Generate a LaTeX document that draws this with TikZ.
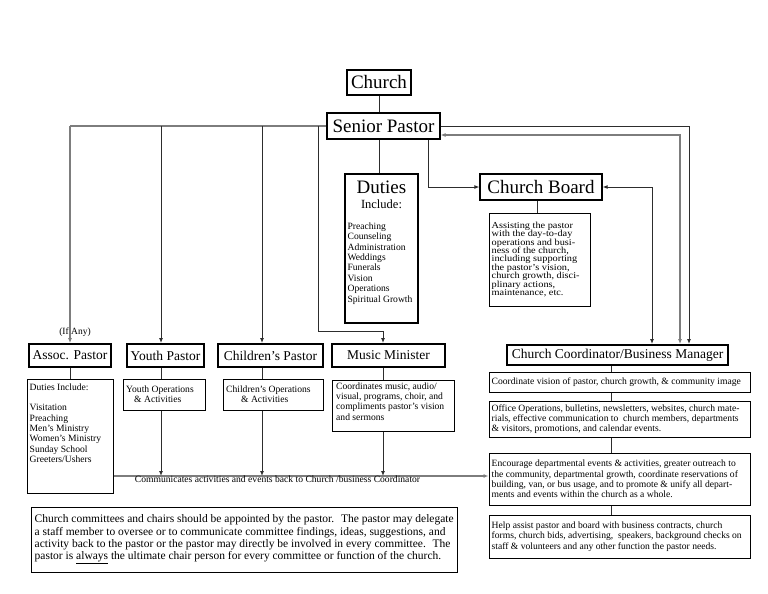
\documentclass[tikz,border=0pt]{standalone}
\usepackage{fontspec}
\setmainfont{Liberation Serif}
\newfontfamily\widefont[FakeStretch=1.12,Ligatures=TeX]{Liberation Serif}
\usetikzlibrary{positioning,arrows.meta}
\definecolor{linedark}{RGB}{45,45,45}
\definecolor{linegray}{RGB}{125,125,125}
% font size with a fixed line spacing
\newcommand{\fs}[2]{\fontsize{#1}{#2}\selectfont\lineskiplimit=-100pt\relax}

\begin{document}
\begin{tikzpicture}[x=1pt,y=-1pt,
	every node/.style={inner sep=0pt},
	% big boxes at the top
	bigbox/.style={draw=black, line width=1.2pt, font=\fs{19}{21}},
	% titles of the staff row
	headbox/.style={draw=black, line width=1.9pt, minimum height=23pt, font=\fs{13.5}{15}},
	% small boxes with text
	infobox/.style={draw=black, line width=1pt},
	infotext/.style={align=left, font=\fs{9.6}{10.3}},
	conn/.style={draw=linedark, line width=1pt},
	gconn/.style={draw=linegray, line width=1.2pt},
	tip/.style={-{Latex[length=5pt,width=4pt]}},
	tips/.style={{Latex[length=5pt,width=4pt]}-{Latex[length=5pt,width=4pt]}}
	]
	\fill[white] (0,0) rectangle (768,594);
	\useasboundingbox (0,0) rectangle (768,594);
	
	% columns of the connectors
	\coordinate (colA) at (70,0);
	\coordinate (colB) at (161,0);
	\coordinate (colC) at (262,0);
	\coordinate (colD) at (383,0);
	\coordinate (colP) at (428,0);
	\coordinate (colE) at (537,0);
	\coordinate (colK) at (611,0);
	\coordinate (colR) at (652,0);
	\coordinate (colG) at (680,0);
	\coordinate (colH) at (689,0);
	\coordinate (musicbend) at (318,331);
	\coordinate (commY) at (0,476);
	
	% Top
	\node[bigbox, minimum width=64pt, minimum height=25pt] (church) at (379,82.5) {Church};
	\node[bigbox, minimum width=113pt, minimum height=26pt] (senior) at (383.5,126) {Senior Pastor};
	
	% Duties of the pastor
	\node[bigbox, minimum width=73pt, minimum height=149pt] (duties) at (381.5,248.5) {};
	\node[anchor=base, font=\fs{19}{21}] (dutieshead) at ([yshift=-20pt]duties.north) {Duties};
	\node[anchor=base, font=\fs{12.5}{14}] (dutiesinc) at ([yshift=-35pt]duties.north) {Include:};
	\node[anchor=north west, align=left, font=\fs{9.6}{10.4}] (dutieslist) at ([shift={(3pt,-49pt)}]duties.north west)
	{Preaching\\Counseling\\Administration\\Weddings\\Funerals\\Vision\\Operations\\Spiritual Growth};
	
	% Church board
	\node[bigbox, minimum width=122pt, minimum height=26pt] (board) at (541,187) {Church Board};
	\node[infobox, minimum width=101pt, minimum height=93pt] (boardtxt) at (539.5,259.5) {};
	\node[anchor=west, align=left, font=\widefont\fs{9.2}{8.4}] (boardlines) at ([xshift=3pt]boardtxt.west)
	{Assisting the pastor\\with the day-to-day\\operations and busi-\\ness of the church,\\including supporting\\the pastor's vision,\\church growth, disci-\\plinary actions,\\maintenance, etc.};
	
	% Staff row
	\node[font=\fs{9.5}{11}, anchor=base] (ifany) at (75,334) {(If Any)};
	\node[headbox, minimum width=82pt] (assoc) at (70,355.5) {Assoc. Pastor};
	\node[headbox, minimum width=77pt] (youth) at (165.5,355.5) {Youth Pastor};
	\node[headbox, minimum width=105pt] (children) at (270.5,355.5) {Children's Pastor};
	\node[headbox, minimum width=113pt] (music) at (388.5,355.5) {Music Minister};
	\node[headbox, minimum width=221pt, minimum height=20pt] (coord) at (617.5,355) {Church Coordinator/Business Manager};
	
	% Staff duties
	\node[infobox, minimum width=86pt, minimum height=114pt] (assocduty) at (70,436) {};
	\node[infotext, anchor=north west] (assocdutytxt) at ([shift={(3pt,-5pt)}]assocduty.north west)
	{Duties Include:\\[10.3pt]Visitation\\Preaching\\Men's Ministry\\Women's Ministry\\Sunday School\\Greeters/Ushers};
	\node[infobox, minimum width=82pt, minimum height=31pt] (youthops) at (164,394.5) {};
	\node[infotext, anchor=west] (youthopstxt) at ([xshift=3.5pt]youthops.west)
	{Youth Operations\\\hspace*{8pt}\& Activities};
	\node[infobox, minimum width=100pt, minimum height=31pt] (childops) at (273,394.5) {};
	\node[infotext, anchor=west] (childopstxt) at ([xshift=3.5pt]childops.west)
	{Children's Operations\\\hspace*{15pt}\& Activities};
	\node[infobox, minimum width=122pt, minimum height=51pt] (musictxt) at (393,405.5) {};
	\node[infotext, anchor=north west] (musictxtlines) at ([shift={(4.5pt,-3pt)}]musictxt.north west)
	{Coordinates music, audio/\\visual, programs, choir, and\\compliments pastor's vision\\and sermons};
	
	% Coordinator duties
	\node[infobox, minimum width=261pt, minimum height=20pt] (cvision) at (619.5,382) {};
	\node[infotext, anchor=west] (cvisiontxt) at ([xshift=3pt]cvision.west)
	{Coordinate vision of pastor, church growth, \& community image};
	\node[infobox, minimum width=261pt, minimum height=36pt] (coffice) at (619.5,419) {};
	\node[infotext, anchor=west] (cofficetxt) at ([xshift=3pt]coffice.west)
	{Office Operations, bulletins, newsletters, websites, church mate-\\rials, effective communication to\ \ church members, departments\\\& visitors, promotions, and calendar events.};
	\node[infobox, minimum width=261pt, minimum height=52pt] (cevents) at (619.5,479) {};
	\node[infotext, anchor=west] (ceventstxt) at ([xshift=3pt]cevents.west)
	{Encourage departmental events \& activities, greater outreach to\\the community, departmental growth, coordinate reservations of\\building, van, or bus usage, and to promote \& unify all depart-\\ments and events within the church as a whole.};
	\node[infobox, minimum width=261pt, minimum height=43pt] (cbusiness) at (619.5,536.5) {};
	\node[infotext, anchor=west] (cbusinesstxt) at ([xshift=3pt]cbusiness.west)
	{Help assist pastor and board with business contracts, church\\forms, church bids, advertising,\ \ speakers, background checks on\\staff \& volunteers and any other function the pastor needs.};
	
	% Note at the bottom
	\node[infobox, minimum width=426pt, minimum height=65pt] (note) at (244,539.5) {};
	\node[anchor=west, align=left, font=\fs{11.5}{12.3}] (notetxt) at ([xshift=4pt]note.west)
	{Church committees and chairs should be appointed by the pastor.~ The pastor may delegate\\a staff member to oversee or to communicate committee findings, ideas, suggestions, and\\activity back to the pastor or the pastor may directly be involved in every committee.~ The\\pastor is \underline{always} the ultimate chair person for every committee or function of the church.};
	
	% Connectors from the top
	\draw[conn] (church.south) -- (church.south |- senior.north);
	\draw[conn] (duties.north -| church.south) -- (church.south |- senior.south);
	\draw[gconn] (senior.west) -- (senior.west -| colA);
	\draw[gconn, tip] (senior.west -| colA) -- (colA |- assoc.north);
	\draw[conn, tip] (senior.west -| colB) -- (colB |- youth.north);
	\draw[conn, tip] (senior.west -| colC) -- (colC |- children.north);
	\draw[conn, tip] (senior.west -| musicbend) -- (musicbend) -| (colD |- music.north);
	\draw[conn, tip] (senior.south -| colP) |- (board.west);
	\draw[conn, tip] (senior.east) -| (colH |- coord.north);
	\draw[gconn, tips] ([yshift=-9pt]senior.east) -| (colG |- coord.north);
	\draw[conn, tips] (board.east) -| (colR |- coord.north);
	
	% Down to the duty boxes
	\draw[conn] (assoc.south) -- (assocduty.north);
	\draw[conn] (colB |- youth.south) -- (colB |- youthops.north);
	\draw[conn] (colC |- children.south) -- (colC |- childops.north);
	\draw[conn] (colD |- music.south) -- (colD |- musictxt.north);
	\draw[conn] (colE |- board.south) -- (colE |- boardtxt.north);
	\draw[conn] (colK |- coord.south) -- (colK |- cvision.north);
	\draw[conn] (colK |- cvision.south) -- (colK |- coffice.north);
	\draw[conn] (colK |- coffice.south) -- (colK |- cevents.north);
	\draw[conn] (colK |- cevents.south) -- (colK |- cbusiness.north);
	
	% Back to the coordinator
	\draw[gconn, tip] (assocduty.east |- commY) -- (cevents.west |- commY);
	\draw[conn, tip] (colB |- youthops.south) -- (colB |- commY);
	\draw[conn, tip] (colC |- childops.south) -- (colC |- commY);
	\draw[conn, tip] (colD |- musictxt.south) -- (colD |- commY);
	\node[font=\fs{9.6}{11}, anchor=base] (commtxt) at (277.5,482) {Communicates activities and events back to Church /business Coordinator};
	
\end{tikzpicture}
\end{document}
